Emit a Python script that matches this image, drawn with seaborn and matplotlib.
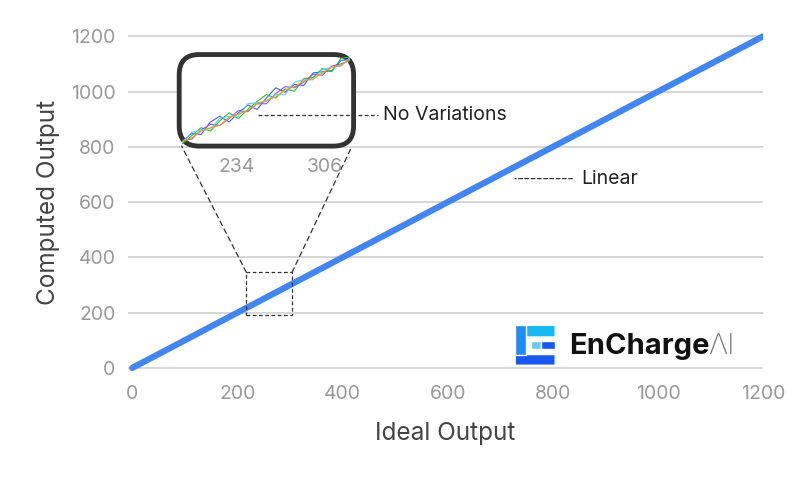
import numpy as np
import matplotlib.pyplot as plt
import seaborn as sns
from matplotlib.patches import FancyBboxPatch, Rectangle, Polygon, ConnectionPatch
from matplotlib.lines import Line2D

sns.set_style("whitegrid")
plt.rcParams['font.family'] = ['Inter', 'DejaVu Sans']

# main series: computed output tracks ideal output
ideal = np.arange(0, 1201, 24)
computed = ideal.copy()
spread = 10

# zoomed window
zoom_x = [217, 304]
zoom_y = [190, 346]
inset_ticks = [234, 306]
inset_x = [234, 238, 242, 246, 250, 254, 258, 262, 266, 270, 274, 278, 282, 286, 290, 294, 298, 302, 306]
dev_blue = [0, 3, -2, 5, 6, -3, 1, 4, -4, 2, 7, -1, 2, -3, 4, 1, -2, 3, 0]
dev_green = [-2, 1, 4, -3, 2, 5, -4, 0, 3, 5, -2, 2, -4, 3, 0, 4, -3, 5, 2]
dev_orange = [0, -1, 1, 0, -2, 1, 0, -1, 1, 0, -1, 1, 0, 1, -1, 0, 1, -1, 0]
dev_purple = [1, -2, 2, 3, -2, 0, 3, -2, 1, -3, 2, 4, -1, 0, 3, -2, 2, 0, -1]
dev_cyan = [-1, 4, 2, -1, 4, 2, -2, 5, 2, -1, 1, -3, 4, 2, -2, 3, 1, -2, 2]
inset_series = [("#3366ee", dev_blue), ("#33bb33", dev_green), ("#9955dd", dev_purple),
                ("#66ccee", dev_cyan), ("#e6a020", dev_orange)]

fig = plt.figure(figsize=(8, 4.87), dpi=100)
ax = fig.add_axes([0.16, 0.236, 0.794, 0.698])
sns.lineplot(x=ideal, y=computed, ax=ax, color="#4285f4", linewidth=4.5, zorder=3)
ax.errorbar(ideal, computed, yerr=spread, fmt='none', ecolor="#4285f4", elinewidth=1.2, zorder=3)
ax.set_xlim(-8, 1200)
ax.set_ylim(-15, 1215)
ax.set_xticks(range(0, 1201, 200))
ax.set_yticks(range(0, 1201, 200))
ax.grid(axis='x', visible=False)
ax.grid(axis='y', color="#d0d0d0", linewidth=1.2)
for s in ax.spines.values():
    s.set_visible(False)
ax.tick_params(colors="#999999", labelsize=14, length=0, pad=9)
ax.set_xlabel("Ideal Output", fontsize=17.5, color="#444444", labelpad=14)
ax.set_ylabel("Computed Output", fontsize=17.5, color="#444444", labelpad=8)

# zoom rectangle
ax.add_patch(Rectangle((zoom_x[0], zoom_y[0]), zoom_x[1] - zoom_x[0], zoom_y[1] - zoom_y[0],
                       fill=False, ls=(0, (3, 2)), lw=0.9, ec="#333333", zorder=4))

# inset
box = FancyBboxPatch((0.224, 0.70), 0.218, 0.188, boxstyle="round,pad=0,rounding_size=0.025",
                     transform=fig.transFigure, fc="white", ec="#333333", lw=3.5, zorder=5,
                     mutation_aspect=800 / 487)
fig.patches.append(box)
ins = fig.add_axes([0.228, 0.705, 0.21, 0.178])
ins.set_zorder(6)
ins.patch.set_alpha(0)
for color, dev in inset_series:
    ins.plot(inset_x, np.array(inset_x) + np.array(dev), color=color, lw=0.8)
ins.set_xlim(inset_x[0], inset_x[-1])
ins.set_ylim(inset_x[0] - 2, inset_x[-1] + 2)
ins.axis('off')
fig.text(0.296, 0.657, str(inset_ticks[0]), ha='center', va='center', fontsize=14, color="#999999")
fig.text(0.406, 0.657, str(inset_ticks[1]), ha='center', va='center', fontsize=14, color="#999999")

# connector lines from rectangle to inset
for xd, xf in [(zoom_x[0], 0.227), (zoom_x[1], 0.44)]:
    con = ConnectionPatch(xyA=(xd, zoom_y[1]), coordsA=ax.transData, xyB=(xf, 0.70),
                          coordsB=fig.transFigure, ls=(0, (4, 3)), lw=0.9, color="#333333")
    fig.add_artist(con)

# annotations
fig.add_artist(Line2D([0.322, 0.473], [0.764, 0.764], transform=fig.transFigure,
                      ls=(0, (3, 2)), lw=0.9, color="#333333", zorder=20))
fig.text(0.479, 0.764, "No Variations", fontsize=14, color="#222222", va='center')
ax.annotate("Linear", xy=(728, 685), xytext=(854, 685),
            fontsize=14, color="#222222", va='center',
            arrowprops=dict(arrowstyle='-', ls=(0, (3, 2)), lw=0.9, color="#333333", shrinkB=0, shrinkA=4))

# logo
lx, ly = 0.644, 0.25
fig.patches.append(Polygon([[lx, ly], [lx + 0.05, ly], [lx + 0.05, ly + 0.022], [lx + 0.014, ly + 0.022],
                            [lx + 0.014, ly + 0.06], [lx, ly + 0.082]], closed=True,
                           transform=fig.transFigure, fc="#1a56f0", zorder=8))
fig.patches.append(Polygon([[lx, ly + 0.082], [lx + 0.014, ly + 0.06], [lx + 0.014, ly + 0.058],
                            [lx + 0.05, ly + 0.058], [lx + 0.05, ly + 0.082]], closed=True,
                           transform=fig.transFigure, fc="#18b8f2", zorder=8))
fig.patches.append(Rectangle((lx, ly + 0.022), 0.014, 0.06, transform=fig.transFigure, fc="#1e8cf5", zorder=8))
fig.patches.append(Rectangle((lx + 0.02, ly + 0.033), 0.012, 0.016, transform=fig.transFigure, fc="#66ccff", zorder=8))
fig.patches.append(Rectangle((lx + 0.032, ly + 0.033), 0.018, 0.016, transform=fig.transFigure, fc="#1a56f0", zorder=8))
fig.text(0.712, 0.288, "EnCharge", fontsize=21, fontweight='bold', color="#111111", va='center', zorder=9)
fig.text(0.885, 0.288, "ΛI", fontsize=21, fontweight='light', color="#777777", va='center', zorder=9)

fig.savefig("out.png", dpi=100)
